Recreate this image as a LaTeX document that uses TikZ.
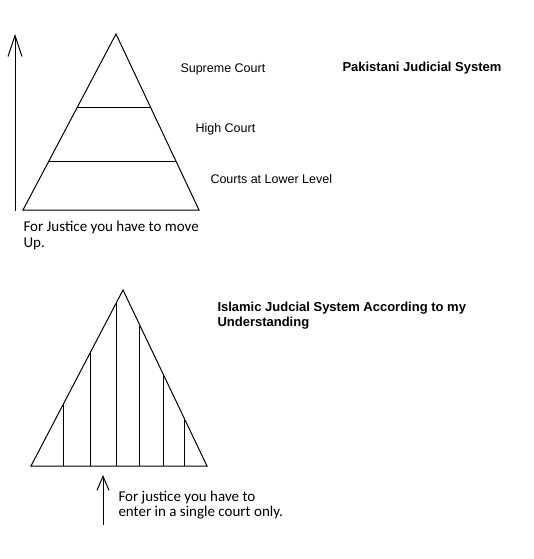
\documentclass[tikz,border=0pt]{standalone}
\usepackage{fontspec}
\setmainfont{Liberation Sans}
\newfontfamily\calfont{Carlito}
\usetikzlibrary{arrows.meta,calc}
\begin{document}
\begin{tikzpicture}[x=1pt,y=-1pt,line width=1pt,
  edge/.style={draw=black},
  uparrow/.style={draw=black,-{Straight Barb[length=21pt,width=14pt,line width=1pt]}},
  smallarrow/.style={draw=black,-{Straight Barb[length=14pt,width=12pt,line width=1pt]}},
  lbl/.style={inner sep=0pt,anchor=base west,font=\fontsize{12.5}{15}\selectfont},
  ttl/.style={inner sep=0pt,anchor=base west,align=left,font=\fontsize{13}{15}\selectfont\bfseries},
  note/.style={inner sep=0pt,anchor=base west,align=left,font=\calfont\fontsize{15}{16}\selectfont}]
\useasboundingbox[fill=white] (0,0) rectangle (534,559);
% ---- top pyramid
\coordinate (A1) at (116,34);
\coordinate (L1) at (23,210);
\coordinate (R1) at (199,210);
\draw[edge] (A1) -- (L1) -- (R1) -- cycle;
\coordinate (a1) at ($(L1)!0.58!(A1)$);
\coordinate (b1) at ($(R1)!0.58!(A1)$);
\coordinate (a2) at ($(L1)!0.278!(A1)$);
\coordinate (b2) at ($(R1)!0.278!(A1)$);
\draw[edge] (a1) -- (b1);
\draw[edge] (a2) -- (b2);
\coordinate (up0) at (15,211);
\coordinate (up1) at (15,34);
\draw[uparrow] (up0) -- (up1);
\node[lbl] (sc) at (180,73) {Supreme Court};
\node[lbl] (hc) at (195,132) {High Court};
\node[lbl] (lc) at (210,183) {Courts at Lower Level};
\node[ttl] (pk) at (342,72) {Pakistani Judicial System};
\node[note] (n1) at (23,247.5) {For Justice you have to move\\Up.};
% ---- bottom pyramid
\coordinate (A2) at (123,290);
\coordinate (L2) at (31,466);
\coordinate (R2) at (207,466);
\draw[edge] (A2) -- (L2) -- (R2) -- cycle;
\foreach \t [count=\i] in {0.348,0.652,0.924}{
  \coordinate (p\i) at ($(L2)!\t!(A2)$);
  \draw[edge] (p\i) -- (p\i |- L2);
}
\foreach \t [count=\i] in {0.202,0.488,0.738}{
  \coordinate (q\i) at ($(A2)!\t!(R2)$);
  \draw[edge] (q\i) -- (q\i |- L2);
}
\coordinate (in0) at (103,525);
\coordinate (in1) at (103,475);
\draw[smallarrow] (in0) -- (in1);
\node[ttl] (is) at (217,326) {Islamic Judcial System According to my\\Understanding};
\node[note,font=\calfont\fontsize{15}{14.5}\selectfont] (n2) at (118,516) {For justice you have to\\enter in a single court only.};
\end{tikzpicture}
\end{document}
